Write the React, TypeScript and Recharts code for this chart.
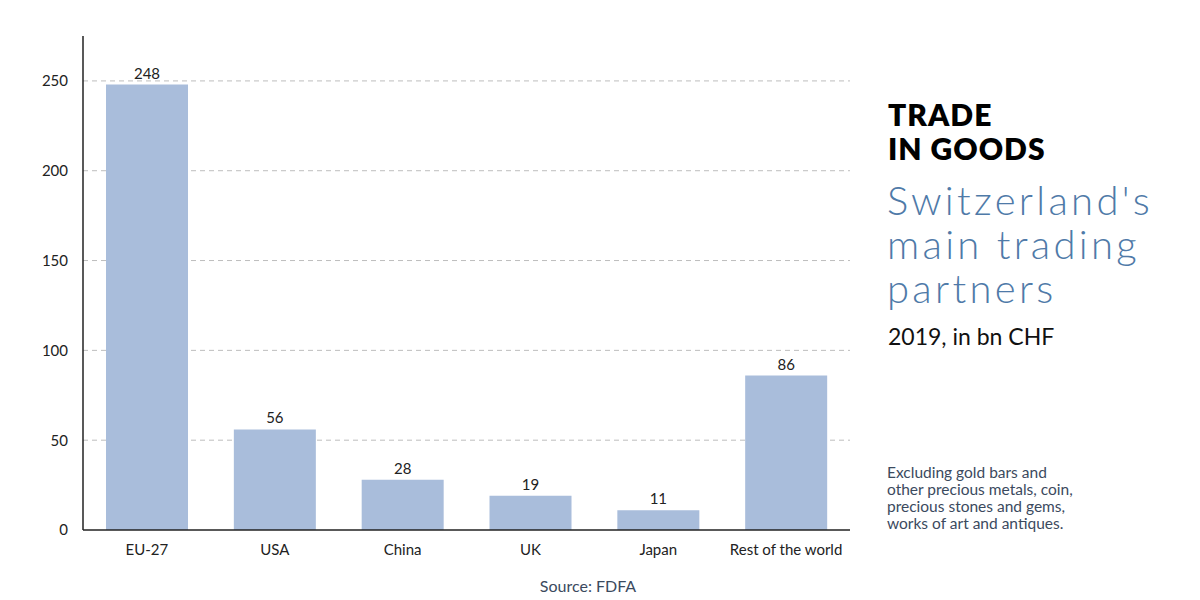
import * as React from 'react';
import { BarChart, Bar, XAxis, YAxis, CartesianGrid, LabelList } from 'recharts';

const partners = ['EU-27', 'USA', 'China', 'UK', 'Japan', 'Rest of the world'];
const tradeValues = [248, 56, 28, 19, 11, 86];
const yTicks = [0, 50, 100, 150, 200, 250];
const gridValues = [50, 100, 150, 200, 250];

const data = partners.map((name, i) => ({ name, value: tradeValues[i] }));

const FONT = 'Lato, "Noto Sans", sans-serif';

export default function App() {
  return (
    <div
      style={{
        position: 'absolute',
        left: 0,
        top: 0,
        width: 1200,
        height: 600,
        background: '#fff',
        fontFamily: FONT,
        overflow: 'hidden',
      }}
    >
      <BarChart
        width={870}
        height={600}
        data={data}
        margin={{ top: 36, right: 20, left: 1, bottom: 40 }}
        barCategoryGap="18%"
      >
        <CartesianGrid
          vertical={false}
          horizontalValues={gridValues}
          strokeDasharray="5 4"
          stroke="#bdbdbd"
        />
        <XAxis
          dataKey="name"
          height={30}
          tickLine={false}
          tickMargin={8}
          axisLine={{ stroke: '#222', strokeWidth: 1.5 }}
          tick={{ fill: '#222', fontSize: 15, fontFamily: FONT }}
          interval={0}
        />
        <YAxis
          width={82}
          domain={[0, 275]}
          ticks={yTicks}
          tickLine={false}
          tickMargin={9}
          axisLine={{ stroke: '#222', strokeWidth: 1.5 }}
          tick={{ fill: '#222', fontSize: 15, fontFamily: FONT }}
        />
        <Bar dataKey="value" fill="#a9bddb" isAnimationActive={false}>
          <LabelList
            dataKey="value"
            position="top"
            offset={6}
            style={{ fill: '#222', fontSize: 15, fontFamily: FONT }}
          />
        </Bar>
      </BarChart>

      <div
        style={{
          position: 'absolute',
          left: 888,
          top: 97,
          fontSize: 30,
          fontWeight: 800,
          lineHeight: '34px',
          color: '#000',
          letterSpacing: '1px',
        }}
      >
        TRADE
        <br />
        IN GOODS
      </div>
      <div
        style={{
          position: 'absolute',
          left: 887,
          top: 178,
          fontSize: 40,
          fontWeight: 300,
          lineHeight: '44px',
          letterSpacing: '3.3px',
          color: '#4f7aa8',
        }}
      >
        Switzerland's
        <br />
        main trading
        <br />
        partners
      </div>
      <div
        style={{
          position: 'absolute',
          left: 888,
          top: 322,
          fontSize: 23,
          color: '#111',
        }}
      >
        2019, in bn CHF
      </div>
      <div
        style={{
          position: 'absolute',
          left: 887,
          top: 464,
          fontSize: 15.5,
          lineHeight: '17px',
          color: '#3b4a5e',
        }}
      >
        Excluding gold bars and
        <br />
        other precious metals, coin,
        <br />
        precious stones and gems,
        <br />
        works of art and antiques.
      </div>
      <div
        style={{
          position: 'absolute',
          left: 466,
          width: 244,
          top: 576,
          textAlign: 'center',
          fontSize: 16,
          color: '#3b4a5e',
        }}
      >
        Source: FDFA
      </div>
    </div>
  );
}
